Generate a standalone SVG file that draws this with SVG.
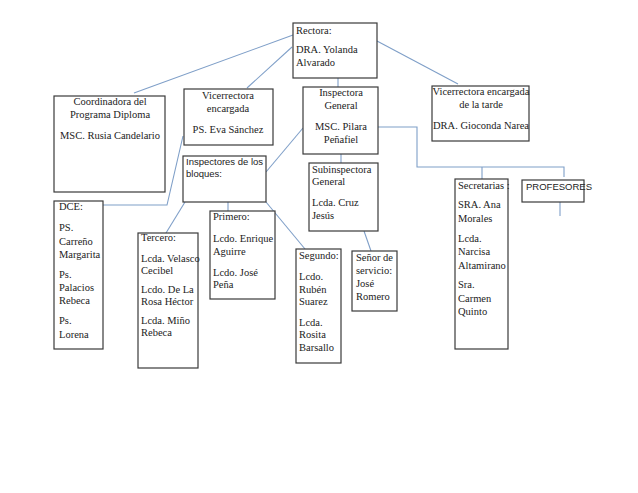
<svg xmlns="http://www.w3.org/2000/svg" width="638" height="493" viewBox="0 0 638 493">
<style>
rect{fill:#fff;stroke:#3a3a3a;stroke-width:1.2}
text{font-family:"Liberation Serif",serif;font-size:10.5px;fill:#222}
.c{text-anchor:middle}
.s{font-family:"Liberation Sans",sans-serif;font-size:9.5px}
#connectors path{fill:none;stroke:#7f9fc8;stroke-width:1.1}
</style>
<rect x="0" y="0" width="638" height="493" style="fill:#fff;stroke:none"/>
<g id="connectors">
<path d="M293,35L134,93"/>
<path d="M292,47L247,88"/>
<path d="M377,41L458,84"/>
<path d="M338,78V87"/>
<path d="M341,154V163"/>
<path d="M303,128L266,172"/>
<path d="M378,127H417V167H564V177M482,167V179"/>
<path d="M560,202V216"/>
<path d="M183,136L167,205H103"/>
<path d="M185,202L166,233"/>
<path d="M228,202V211"/>
<path d="M266,202L305,249"/>
<path d="M364,231L371,251"/>
</g>
<g id="rectora"><rect x="293" y="23" width="84" height="55"/><text x="296" y="34">Rectora:</text><text x="296" y="53">DRA.  Yolanda</text><text x="296" y="66">Alvarado</text></g>
<g id="coordinadora"><rect x="54" y="96" width="111" height="96"/><text class="c" x="110" y="105">Coordinadora  del</text><text class="c" x="110" y="118">Programa  Diploma</text><text class="c" x="110" y="139">MSC. Rusia  Candelario</text></g>
<g id="vice1"><rect x="184" y="89" width="89" height="56"/><text class="c" x="228" y="99">Vicerrectora</text><text class="c" x="228" y="112">encargada</text><text class="c" x="228" y="133">PS. Eva  Sánchez</text></g>
<g id="inspectora"><rect x="303" y="87" width="75" height="67"/><text class="c" x="341" y="96">Inspectora</text><text class="c" x="341" y="109">General</text><text class="c" x="341" y="130">MSC. Pilara</text><text class="c" x="341" y="143">Peñafiel</text></g>
<g id="vice2"><rect x="432" y="86" width="97" height="55"/><text class="c" x="481" y="95">Vicerrectora  encargada</text><text class="c" x="481" y="108">de la  tarde</text><text class="c" x="481" y="129">DRA.  Gioconda  Narea</text></g>
<g id="bloques"><rect x="183" y="156" width="83" height="46"/><text class="s" x="186" y="165">Inspectores de los</text><text class="s" x="186" y="177">bloques:</text></g>
<g id="subinspectora"><rect x="309" y="163" width="69" height="68"/><text x="312" y="173">Subinspectora</text><text x="312" y="185">General</text><text x="312" y="206">Lcda.  Cruz</text><text x="312" y="219">Jesús</text></g>
<g id="secretarias"><rect x="455" y="179" width="53" height="170"/><text x="458" y="189">Secretarias  :</text><text x="458" y="208">SRA.  Ana</text><text x="458" y="222">Morales</text><text x="458" y="242">Lcda.</text><text x="458" y="255">Narcisa</text><text x="458" y="269">Altamirano</text><text x="458" y="288">Sra.</text><text x="458" y="302">Carmen</text><text x="458" y="315">Quinto</text></g>
<g id="profesores"><rect x="522" y="180" width="62" height="22"/><text class="s" x="526" y="190">PROFESORES</text></g>
<g id="dce"><rect x="54" y="201" width="49" height="148"/><text x="59" y="210">DCE:</text><text x="59" y="231">PS.</text><text x="59" y="245">Carreño</text><text x="59" y="258">Margarita</text><text x="59" y="278">Ps.</text><text x="59" y="291">Palacios</text><text x="59" y="304">Rebeca</text><text x="59" y="324">Ps.</text><text x="59" y="338">Lorena</text></g>
<g id="tercero"><rect x="138" y="233" width="60" height="135"/><text x="141" y="241">Tercero:</text><text x="141" y="262">Lcda.  Velasco</text><text x="141" y="274">Cecibel</text><text x="141" y="293">Lcdo.  De La</text><text x="141" y="305">Rosa Héctor</text><text x="141" y="324">Lcda.  Miño</text><text x="141" y="336">Rebeca</text></g>
<g id="primero"><rect x="210" y="211" width="65" height="88"/><text x="213" y="220">Primero:</text><text x="213" y="242">Lcdo.  Enrique</text><text x="213" y="255">Aguirre</text><text x="213" y="276">Lcdo.  José</text><text x="213" y="288">Peña</text></g>
<g id="segundo"><rect x="296" y="249" width="45" height="114"/><text x="299" y="259">Segundo:</text><text x="299" y="280">Lcdo.</text><text x="299" y="293">Rubén</text><text x="299" y="305">Suarez</text><text x="299" y="326">Lcda.</text><text x="299" y="338">Rosita</text><text x="299" y="351">Barsallo</text></g>
<g id="servicio"><rect x="352" y="251" width="45" height="60"/><text x="356" y="261">Señor de</text><text x="356" y="274">servicio:</text><text x="356" y="287">José</text><text x="356" y="300">Romero</text></g>
</svg>
